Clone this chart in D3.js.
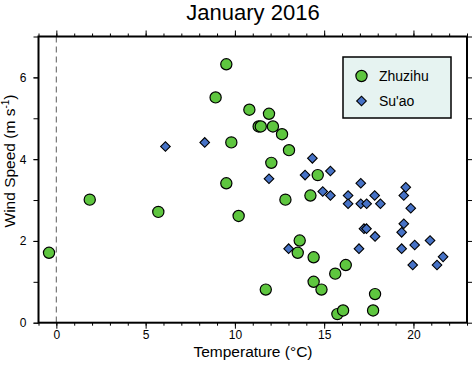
<!DOCTYPE html>
<html><head><meta charset="utf-8">
<script src="https://cdn.jsdelivr.net/npm/d3@7"></script>
<style>body{margin:0;background:#fff}svg{display:block;font-family:"Liberation Sans",Arial,Helvetica,sans-serif}</style>
</head><body>
<svg id="c" width="474" height="365"></svg>
<script>
const zhuziTemp = [-0.41,1.87,5.71,8.92,9.52,9.52,9.80,10.21,10.81,11.33,11.45,11.91,12.13,12.04,12.64,12.83,13.03,11.73,13.63,13.52,14.23,14.41,14.41,14.64,14.85,15.62,16.21,15.74,16.06,17.74,17.85];
const zhuziWind = [1.71,3.01,2.71,5.51,6.32,3.41,4.41,2.61,5.21,4.80,4.80,5.11,4.80,3.91,4.61,3.01,4.22,0.81,2.01,1.71,3.11,1.60,1.00,3.61,0.81,1.20,1.41,0.21,0.30,0.30,0.70];
const suaoTemp = [6.11,8.31,11.91,13.01,13.93,14.34,14.92,15.35,15.35,17.05,19.57,16.34,17.83,19.46,16.34,17.05,17.38,18.15,19.85,19.46,19.34,17.23,17.37,17.85,20.93,16.95,19.34,20.07,21.66,21.32,19.96];
const suaoWind = [4.31,4.41,3.52,1.81,3.61,4.02,3.21,3.71,3.11,3.41,3.31,3.11,3.11,3.11,2.91,2.91,2.91,2.91,2.80,2.42,2.21,2.30,2.30,2.11,2.01,1.81,1.81,1.90,1.61,1.41,1.41];
const xTicks = [0,5,10,15,20];
const yTicks = [0,2,4,6];
const seriesNames = ["Zhuzihu","Su'ao"];

const svg = d3.select("#c");
const L=38.5,R=467,T=36.5,B=322.7;
const x = d3.scaleLinear().domain([-1,23]).range([L,R]);
const y = d3.scaleLinear().domain([0,7]).range([B,T]);

// dashed zero line
svg.append("line").attr("x1",x(0)).attr("x2",x(0)).attr("y1",T).attr("y2",B)
  .attr("stroke","#777").attr("stroke-width",1.2).attr("stroke-dasharray","6,4");

const minorX = d3.range(-1,24,1), minorY = d3.range(0,8,1);
function axisStyle(g){g.select(".domain").remove();g.selectAll("line").attr("stroke","#000").attr("stroke-width",1);
  g.selectAll("text").attr("font-size",12).attr("fill","#000").attr("font-family","Liberation Sans, Arial, sans-serif");}
// bottom
svg.append("g").attr("transform",`translate(0,${B})`).call(d3.axisBottom(x).tickValues(minorX).tickSize(3).tickFormat("")).call(axisStyle);
svg.append("g").attr("transform",`translate(0,${B})`).call(d3.axisBottom(x).tickValues(xTicks).tickSize(6).tickPadding(2).tickFormat(d3.format("d"))).call(axisStyle);
// top
svg.append("g").attr("transform",`translate(0,${T})`).call(d3.axisTop(x).tickValues(minorX).tickSize(3).tickFormat("")).call(axisStyle);
svg.append("g").attr("transform",`translate(0,${T})`).call(d3.axisTop(x).tickValues(xTicks).tickSize(6).tickFormat("")).call(axisStyle);
// left
svg.append("g").attr("transform",`translate(${L},0)`).call(d3.axisLeft(y).tickValues(minorY).tickSize(5).tickFormat("")).call(axisStyle);
svg.append("g").attr("transform",`translate(${L},0)`).call(d3.axisLeft(y).tickValues(yTicks).tickSize(5).tickPadding(7).tickFormat(d3.format("d"))).call(axisStyle);
// right
svg.append("g").attr("transform",`translate(${R},0)`).call(d3.axisRight(y).tickValues(minorY).tickSize(5).tickFormat("")).call(axisStyle);

// frame
svg.append("rect").attr("x",L).attr("y",T).attr("width",R-L).attr("height",B-T)
  .attr("fill","none").attr("stroke","#000").attr("stroke-width",2);

const green="#5ec63f", blue="#4672c6";
svg.append("g").selectAll("circle").data(d3.range(zhuziTemp.length)).join("circle")
  .attr("cx",i=>x(zhuziTemp[i])).attr("cy",i=>y(zhuziWind[i])).attr("r",5.6)
  .attr("fill",green).attr("stroke","#000").attr("stroke-width",1.2);
svg.append("g").selectAll("path").data(d3.range(suaoTemp.length)).join("path")
  .attr("d",d3.symbol().type(d3.symbolSquare).size(46))
  .attr("transform",i=>`translate(${x(suaoTemp[i])},${y(suaoWind[i])}) rotate(45)`)
  .attr("fill",blue).attr("stroke","#000").attr("stroke-width",1.1);

// legend
const lg = svg.append("g");
lg.append("rect").attr("x",343).attr("y",57).attr("width",108).attr("height",61)
  .attr("fill","#e6f3f1").attr("stroke","#000").attr("stroke-width",1.5);
lg.append("circle").attr("cx",361.5).attr("cy",76).attr("r",5.6).attr("fill",green).attr("stroke","#000").attr("stroke-width",1.2);
lg.append("path").attr("d",d3.symbol().type(d3.symbolSquare).size(46)).attr("transform","translate(361.5,101) rotate(45)")
  .attr("fill",blue).attr("stroke","#000").attr("stroke-width",1.1);
lg.selectAll("text").data(seriesNames).join("text").attr("x",379).attr("y",(d,i)=>76+i*25).attr("dy","0.35em")
  .attr("font-size",14).attr("fill","#000").text(d=>d);

// title
svg.append("text").attr("x",253).attr("y",19.5).attr("text-anchor","middle").attr("font-size",22).attr("fill","#000").text("January 2016");
// x label
svg.append("text").attr("x",253).attr("y",356.5).attr("text-anchor","middle").attr("font-size",15.5).attr("fill","#000").text("Temperature (°C)");
// y label
const yl = svg.append("text").attr("transform","translate(14.5,161) rotate(-90)").attr("text-anchor","middle").attr("font-size",15.5).attr("fill","#000");
yl.append("tspan").text("Wind Speed (m s");
yl.append("tspan").attr("font-size",10).attr("dy",-6).text("-1");
yl.append("tspan").attr("dy",6).text(")");
</script>
</body></html>
